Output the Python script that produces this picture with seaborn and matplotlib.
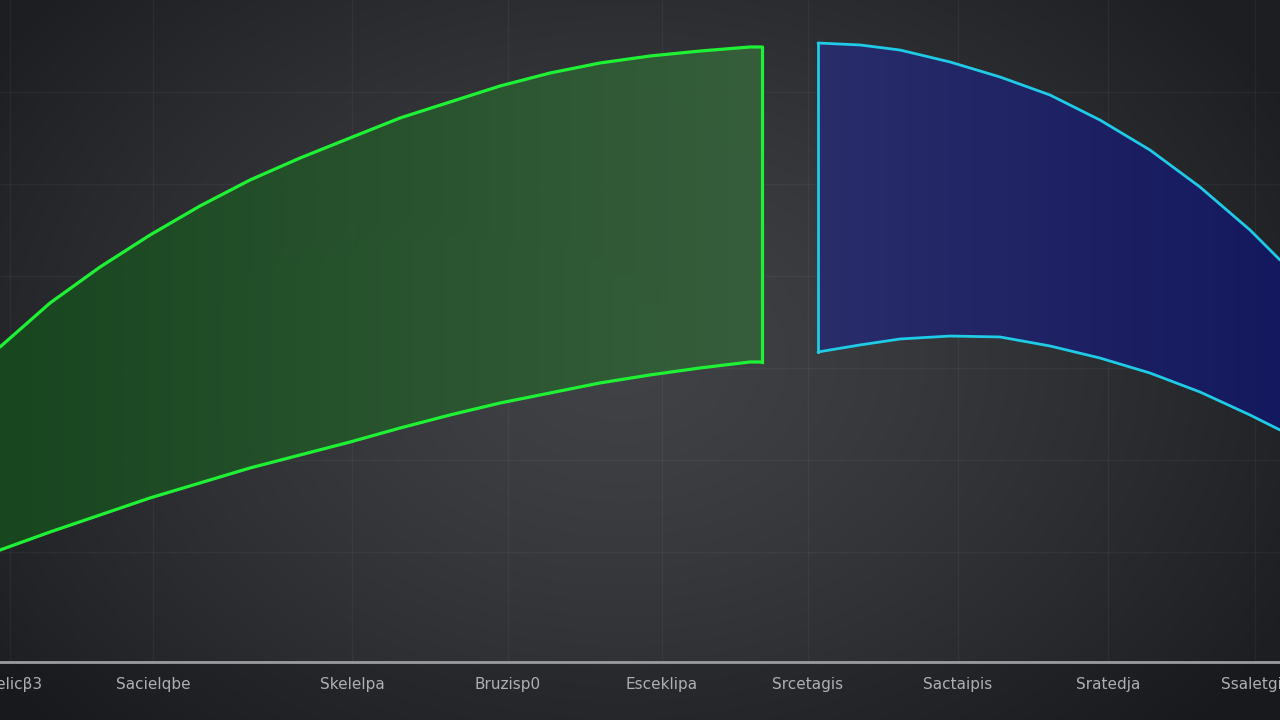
import numpy as np
import matplotlib
matplotlib.use("Agg")
import matplotlib.pyplot as plt
from matplotlib.patches import PathPatch
from matplotlib.colors import LinearSegmentedColormap
import seaborn as sns
import pandas as pd

# ---------------- data ----------------
tick_pos = [0.10, 1.53, 3.52, 5.08, 6.62, 8.08, 9.58, 11.08, 12.55]
tick_labels = ["Saelicβ3", "Sacielqbe", "Skelelpa", "Bruzisp0", "Esceklipa",
               "Srcetagis", "Sactaipis", "Sratedja", "Ssaletgis"]

green_x = [0.00, 0.50, 1.00, 1.50, 2.00, 2.50, 3.00, 3.50, 4.00, 4.50, 5.00,
           5.50, 6.00, 6.50, 7.00, 7.50, 7.62]
green_hi = [3.424, 3.902, 4.293, 4.641, 4.957, 5.239, 5.478, 5.696, 5.913, 6.087,
            6.261, 6.402, 6.511, 6.587, 6.641, 6.685, 6.685]
green_lo = [1.217, 1.413, 1.598, 1.783, 1.946, 2.109, 2.250, 2.391, 2.543, 2.685,
            2.815, 2.924, 3.033, 3.120, 3.196, 3.261, 3.261]

blue_x = [8.18, 8.60, 9.00, 9.50, 10.00, 10.50, 11.00, 11.50, 12.00, 12.50, 12.80]
blue_hi = [6.728, 6.707, 6.652, 6.522, 6.359, 6.163, 5.891, 5.565, 5.163, 4.696, 4.370]
blue_lo = [3.370, 3.446, 3.511, 3.543, 3.533, 3.435, 3.304, 3.141, 2.935, 2.685, 2.522]

grid_y = [1.2, 2.2, 3.2, 4.2, 5.2, 6.2]

# ---------------- figure ----------------
sns.set_theme(style="dark")
plt.rcParams["font.family"] = ["DejaVu Sans"]

W, H = 12.8, 7.2
fig = plt.figure(figsize=(W, H), dpi=100)

# background radial gradient
bg = fig.add_axes([0, 0, 1, 1], zorder=-10)
yy, xx = np.mgrid[0:720, 0:1280]
r = np.sqrt(((xx - 620) / 760.0) ** 2 + ((yy - 360) / 560.0) ** 2)
t = np.clip(r, 0, 1) ** 1.3
c_in = np.array([64, 66, 70]) / 255.0
c_out = np.array([28, 30, 34]) / 255.0
img = c_in[None, None, :] * (1 - t[..., None]) + c_out[None, None, :] * t[..., None]
img[662:, :, :] = img[662:, :, :] * 0.85
bg.imshow(img, aspect="auto", extent=[0, 1, 0, 1], origin="upper")
bg.set_axis_off()

ax = fig.add_axes([0, 58 / 720, 1, 662 / 720])
ax.patch.set_alpha(0)
xmax = 12.8
ymax = 662 / 92
ax.set_xlim(0, xmax)
ax.set_ylim(0, ymax)

# grid
for gx in tick_pos:
    ax.axvline(gx, color="white", alpha=0.045, lw=1, zorder=1)
for gy in grid_y:
    ax.axhline(gy, color="white", alpha=0.045, lw=1, zorder=1)


def gradient_band(x, lo, hi, c_left, c_right, alpha):
    poly = ax.fill_between(x, lo, hi, color="none", lw=0)
    path = poly.get_paths()[0]
    patch = PathPatch(path, transform=ax.transData, facecolor="none", edgecolor="none")
    ax.add_patch(patch)
    cmap = LinearSegmentedColormap.from_list("g", [c_left, c_right])
    grad = np.linspace(0, 1, 256)[None, :]
    im = ax.imshow(grad, cmap=cmap, extent=[min(x), max(x), 0, ymax],
                   aspect="auto", alpha=alpha, zorder=2, origin="lower")
    im.set_clip_path(patch)


gradient_band(green_x, green_lo, green_hi, "#18481f", "#37603c", 0.97)
gradient_band(blue_x, blue_lo, blue_hi, "#2a2d6c", "#141860", 0.98)

gdf = pd.DataFrame({"x": green_x, "hi": green_hi, "lo": green_lo})
bdf = pd.DataFrame({"x": blue_x, "hi": blue_hi, "lo": blue_lo})

gcol = "#1ff235"
bcol = "#1fcbe6"
sns.lineplot(data=gdf, x="x", y="hi", ax=ax, color=gcol, lw=2.3, zorder=4, sort=False)
sns.lineplot(data=gdf, x="x", y="lo", ax=ax, color=gcol, lw=2.3, zorder=4, sort=False)
ax.plot([green_x[-1], green_x[-1]], [green_lo[-1], green_hi[-1]], color=gcol, lw=2.3,
        zorder=4, solid_capstyle="projecting")
sns.lineplot(data=bdf, x="x", y="hi", ax=ax, color=bcol, lw=2.0, zorder=4, sort=False)
sns.lineplot(data=bdf, x="x", y="lo", ax=ax, color=bcol, lw=2.0, zorder=4, sort=False)
ax.plot([blue_x[0], blue_x[0]], [blue_lo[0], blue_hi[0]], color=bcol, lw=2.0,
        zorder=4, solid_capstyle="projecting")

# axes styling
for s in ["top", "right", "left"]:
    ax.spines[s].set_visible(False)
ax.spines["bottom"].set_color("#9a9c9f")
ax.spines["bottom"].set_linewidth(2.0)
ax.set_xticks(tick_pos)
ax.set_xticklabels(tick_labels, color="#aeafb2", fontsize=11)
ax.tick_params(axis="x", length=0, pad=11)
ax.set_yticks([])
ax.set_xlabel("")
ax.set_ylabel("")
ax.grid(False)

fig.savefig("out.png", dpi=100)
